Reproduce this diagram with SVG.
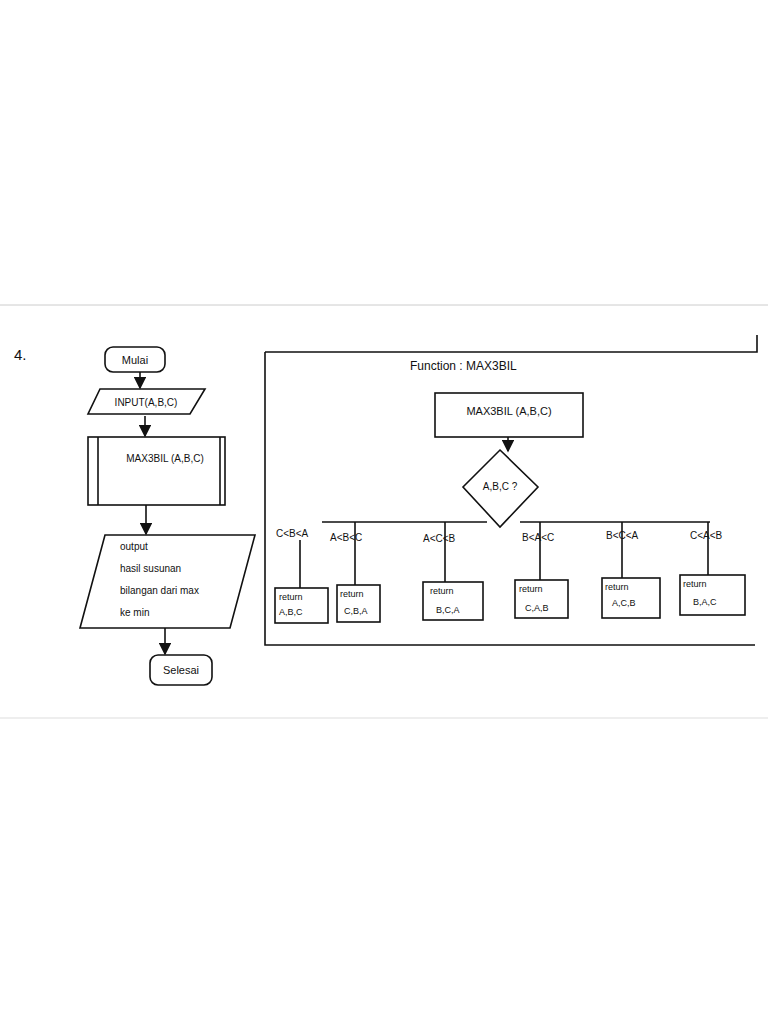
<svg xmlns="http://www.w3.org/2000/svg" width="768" height="1024" viewBox="0 0 768 1024">
<defs>
<marker id="ah" markerWidth="8" markerHeight="8" refX="7" refY="4" orient="auto"><path d="M0,0 L8,4 L0,8 z" fill="#111"/></marker>
<style>
.s{fill:none;stroke:#111;stroke-width:1.6}
.t{font-family:"Liberation Sans",Arial,sans-serif;font-size:11px;fill:#111}
.c{text-anchor:middle}
</style>
</defs>
<rect width="768" height="1024" fill="#fff"/>
<line x1="0" y1="305" x2="768" y2="305" stroke="#ccc" stroke-width="1"/>
<line x1="0" y1="718" x2="768" y2="718" stroke="#ddd" stroke-width="1"/>
<text class="t" x="14" y="360" style="font-size:15px">4.</text>
<g id="connectors" class="s">
<line x1="140" y1="372" x2="140" y2="388" marker-end="url(#ah)"/>
<line x1="145" y1="416" x2="145" y2="436" marker-end="url(#ah)"/>
<line x1="146" y1="505" x2="146" y2="534" marker-end="url(#ah)"/>
<line x1="165" y1="628" x2="165" y2="654" marker-end="url(#ah)"/>
<line x1="508" y1="437" x2="508" y2="451" marker-end="url(#ah)"/>
<path d="M322,522 H487 M520,522 H710"/>
<path d="M300,540 V588 M355,522 V585 M445,522 V582 M540,522 V580 M622,522 V578 M708,522 V575"/>
</g>
<g id="mulai"><rect class="s" x="105" y="347" width="60" height="25" rx="8"/><text class="t c" x="135" y="364">Mulai</text></g>
<g id="input"><polygon class="s" points="100,389 205,389 190,414 88,414"/><text class="t c" x="146" y="406" style="font-size:10px">INPUT(A,B,C)</text></g>
<g id="max3bil-call"><rect class="s" x="88" y="437" width="137" height="68"/><line class="s" x1="98" y1="437" x2="98" y2="505"/><line class="s" x1="220" y1="437" x2="220" y2="505"/><text class="t c" x="165" y="462" style="font-size:10px">MAX3BIL (A,B,C)</text></g>
<g id="output"><polygon class="s" points="105,535 255,535 230,628 80,628"/>
<text class="t" x="120" y="550" style="font-size:10px">output</text>
<text class="t" x="120" y="572" style="font-size:10px">hasil susunan</text>
<text class="t" x="120" y="594" style="font-size:10px">bilangan dari max</text>
<text class="t" x="120" y="616" style="font-size:10px">ke min</text></g>
<g id="selesai"><rect class="s" x="150" y="655" width="62" height="30" rx="8"/><text class="t c" x="181" y="674">Selesai</text></g>
<g id="function-frame"><path class="s" d="M265,352 V645 H755 M265,352 H757 V335"/><text class="t" x="410" y="370" style="font-size:12px">Function : MAX3BIL</text></g>
<g id="max3bil"><rect class="s" x="435" y="393" width="148" height="44"/><text class="t c" x="509" y="415">MAX3BIL (A,B,C)</text></g>
<g id="decision"><polygon class="s" points="500,450 538,487 500,527 463,487"/><text class="t c" x="500" y="490" style="font-size:10px">A,B,C ?</text></g>
<g id="labels" class="t" style="font-size:10px">
<text x="276" y="537">C&lt;B&lt;A</text>
<text x="330" y="541">A&lt;B&lt;C</text>
<text x="423" y="542">A&lt;C&lt;B</text>
<text x="522" y="541">B&lt;A&lt;C</text>
<text x="606" y="539">B&lt;C&lt;A</text>
<text x="690" y="539">C&lt;A&lt;B</text>
</g>
<g id="r1"><rect class="s" x="275" y="588" width="53" height="35"/><text class="t" x="279" y="600" style="font-size:9px">return</text><text class="t" x="279" y="615" style="font-size:9px">A,B,C</text></g>
<g id="r2"><rect class="s" x="337" y="585" width="43" height="37"/><text class="t" x="340" y="597" style="font-size:9px">return</text><text class="t" x="344" y="614" style="font-size:9px">C,B,A</text></g>
<g id="r3"><rect class="s" x="423" y="582" width="60" height="38"/><text class="t" x="430" y="594" style="font-size:9px">return</text><text class="t" x="436" y="613" style="font-size:9px">B,C,A</text></g>
<g id="r4"><rect class="s" x="515" y="580" width="53" height="38"/><text class="t" x="519" y="592" style="font-size:9px">return</text><text class="t" x="525" y="611" style="font-size:9px">C,A,B</text></g>
<g id="r5"><rect class="s" x="602" y="578" width="58" height="40"/><text class="t" x="605" y="590" style="font-size:9px">return</text><text class="t" x="612" y="606" style="font-size:9px">A,C,B</text></g>
<g id="r6"><rect class="s" x="680" y="575" width="65" height="40"/><text class="t" x="683" y="587" style="font-size:9px">return</text><text class="t" x="693" y="605" style="font-size:9px">B,A,C</text></g>
</svg>
